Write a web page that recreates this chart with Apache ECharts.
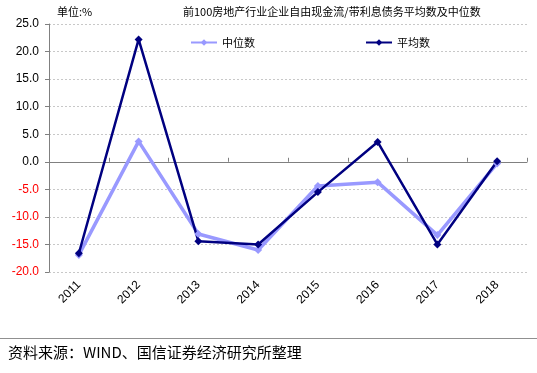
<!DOCTYPE html>
<html><head><meta charset="utf-8">
<script src="https://cdn.jsdelivr.net/npm/echarts@6/dist/echarts.min.js"></script>
<style>html,body{margin:0;padding:0;background:#fff}#c{width:537px;height:373px}</style>
</head><body><div id="c"></div>
<script>
var categories = ['2011','2012','2013','2014','2015','2016','2017','2018'];
var medianValues = [-16.9, 3.7, -13.1, -16.0, -4.4, -3.7, -13.3, -0.3];
var meanValues = [-16.6, 22.2, -14.4, -15.0, -5.5, 3.6, -15.0, 0.1];
var yTicks = [-20, -15, -10, -5, 0, 5, 10, 15, 20, 25];
var unitLabel = '单位:%';
var titleText = '前100房地产行业企业自由现金流/带利息债务平均数及中位数';
var sourceText = '资料来源：WIND、国信证券经济研究所整理';
var seriesNames = ['中位数', '平均数'];

var chart = echarts.init(document.getElementById('c'));
chart.setOption({
  animation: false,
  textStyle: {fontFamily: '"Liberation Sans", Arial, sans-serif'},
  grid: {left: 49, right: 10, top: 24, bottom: 101, containLabel: false},
  legend: {
    data: seriesNames, top: 32, left: 185, itemGap: 110, itemWidth: 26, itemHeight: 8,
    textStyle: {fontFamily: '"Noto Sans CJK SC"', fontSize: 11, color: '#000'}
  },
  xAxis: [{
    type: 'category', data: categories, position: 'bottom',
    axisLine: {show: false, onZero: false}, axisTick: {show: false},
    axisLabel: {rotate: 45, fontSize: 12, color: '#000', margin: 11, interval: 0}
  }, {
    type: 'category', data: categories, position: 'bottom',
    axisLine: {show: true, onZero: true, lineStyle: {color: '#808080', width: 1}},
    axisTick: {show: true, inside: true, length: 4, lineStyle: {color: '#808080'}},
    axisLabel: {show: false}
  }],
  yAxis: {
    type: 'value', min: -20, max: 25, interval: 5,
    axisLine: {show: true, lineStyle: {color: '#808080'}},
    axisTick: {show: true, length: 4, lineStyle: {color: '#808080'}},
    splitLine: {show: true, lineStyle: {color: '#c8c8c8', type: [2, 2], width: 1}},
    axisLabel: {
      fontSize: 12, margin: 10,
      formatter: function (v) { return v.toFixed(1); },
      color: function (v) { return Number(v) < 0 ? '#ff0000' : '#000'; }
    }
  },
  series: [{
    name: seriesNames[0], type: 'line', data: medianValues, xAxisIndex: 0,
    symbol: 'diamond', symbolSize: 8,
    lineStyle: {color: '#9999ff', width: 3.5}, itemStyle: {color: '#9999ff'}
  }, {
    name: seriesNames[1], type: 'line', data: meanValues, xAxisIndex: 0,
    symbol: 'diamond', symbolSize: 8,
    lineStyle: {color: '#000080', width: 2.5}, itemStyle: {color: '#000080'}
  }],
  graphic: [
    {type: 'text', left: 57, top: 6, style: {text: unitLabel, fontSize: 11, fill: '#000', fontFamily: '"Noto Sans CJK SC"'}},
    {type: 'text', left: 183, top: 6, style: {text: titleText, fontSize: 11, fill: '#000', fontFamily: '"Noto Sans CJK SC"'}},
    {type: 'rect', shape: {x: 0, y: 338, width: 537, height: 1}, style: {fill: '#909090'}},
    {type: 'text', left: 8, top: 345, style: {text: sourceText, fontSize: 15, fill: '#000', fontFamily: '"Noto Sans CJK SC"'}}
  ]
});
</script></body></html>
